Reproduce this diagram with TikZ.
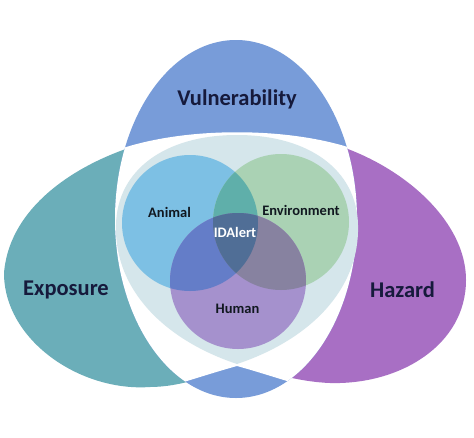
\documentclass[tikz,border=0pt]{standalone}
\usepackage{fontspec}
\setmainfont{Carlito}
\definecolor{expcol}{HTML}{6BAEB9}
\definecolor{hazcol}{HTML}{A86FC4}
\definecolor{vulcol}{HTML}{789CD9}
\definecolor{palecol}{HTML}{D5E6EB}
\definecolor{acol}{HTML}{7DC0E4}
\definecolor{ecol}{HTML}{AAD2B4}
\definecolor{hcol}{HTML}{A591CD}
\definecolor{aecol}{HTML}{5FAFAA}
\definecolor{ahcol}{HTML}{647DC8}
\definecolor{ehcol}{HTML}{8782A0}
\definecolor{aehcol}{HTML}{506E96}
\definecolor{bigtxt}{HTML}{161A3C}
\definecolor{smalltxt}{HTML}{111820}
\tikzset{
  biglabel/.style={font=\fontsize{22.5}{26}\selectfont\bfseries, text=bigtxt, anchor=base, inner sep=0pt},
  smalllabel/.style={font=\fontsize{14.5}{17}\selectfont\bfseries, text=smalltxt, anchor=base, inner sep=0pt},
}
\begin{document}
\begin{tikzpicture}[x=1pt,y=-1pt]
\useasboundingbox (0,0) rectangle (474,437);
\fill[white] (0,0) rectangle (474,437);
% Exposure blob
\fill[expcol] (160,139) .. controls (90,155) and (10,200) .. (4,273)
  .. controls (4,340) and (80,392) .. (150,387)
  .. controls (180,387) and (215,375) .. (240,362) -- (240,250) -- cycle;
% Hazard blob
\fill[hazcol] (314,139) .. controls (390,155) and (466,215) .. (466,280)
  .. controls (466,345) and (400,385) .. (330,383)
  .. controls (300,382) and (265,372) .. (234,362) -- (234,250) -- cycle;
% Vulnerability ellipse
\fill[vulcol] (236,219) ellipse [x radius=121pt, y radius=179pt];
% white overlap region
\begin{scope}
  \clip (236,219) ellipse [x radius=121pt, y radius=179pt];
  \fill[white] (100,157) .. controls (170,124) and (304,124) .. (374,157)
    -- (384,157) -- (384,400) -- (324,392)
    .. controls (289,382) and (259,372) .. (237,366)
    .. controls (215,372) and (185,382) .. (150,392)
    -- (90,400) -- (90,157) -- cycle;
\end{scope}
% pale shield
\fill[palecol] (237,135) .. controls (165,135) and (117,170) .. (116,225)
  .. controls (114,290) and (165,340) .. (237,364)
  .. controls (309,340) and (360,290) .. (358,225)
  .. controls (357,170) and (309,135) .. (237,135) -- cycle;
% circles
\coordinate (ca) at (190,223);
\coordinate (ce) at (281,222);
\coordinate (ch) at (238,281);
\fill[acol] (ca) circle (68pt);
\fill[ecol] (ce) circle (68pt);
\fill[hcol] (ch) circle (68pt);
\begin{scope}
  \clip (ca) circle (68pt);
  \fill[aecol] (ce) circle (68pt);
  \fill[ahcol] (ch) circle (68pt);
\end{scope}
\begin{scope}
  \clip (ce) circle (68pt);
  \fill[ehcol] (ch) circle (68pt);
\end{scope}
\begin{scope}
  \clip (ca) circle (68pt);
  \clip (ce) circle (68pt);
  \fill[aehcol] (ch) circle (68pt);
\end{scope}
% labels
\node[biglabel] (vul) at (237,105) {Vulnerability};
\node[biglabel] (exp) at (66,295) {Exposure};
\node[biglabel] (haz) at (402.5,297) {Hazard};
\node[smalllabel] (ani) at (169.5,217) {Animal};
\node[smalllabel] (env) at (301,215) {Environment};
\node[smalllabel] (hum) at (237.5,313) {Human};
\node[smalllabel, text=white] (ida) at (235,237) {IDAlert};
\end{tikzpicture}
\end{document}
